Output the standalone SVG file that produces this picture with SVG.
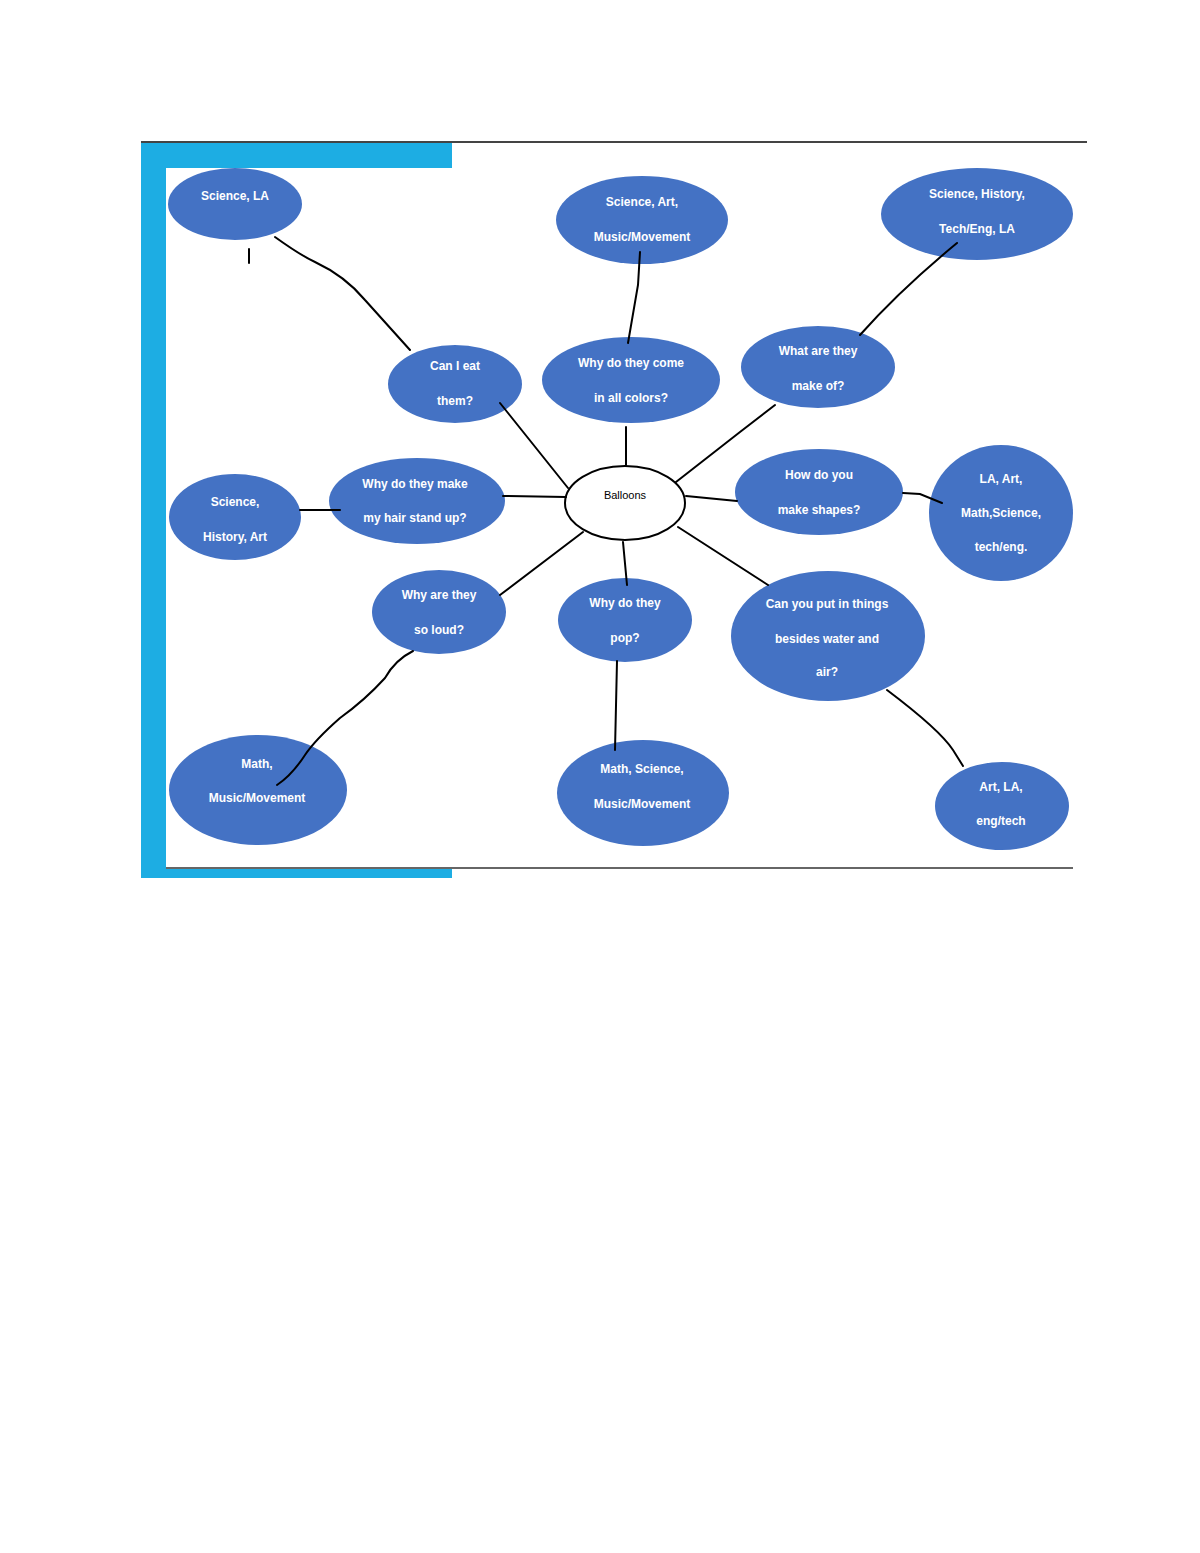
<svg xmlns="http://www.w3.org/2000/svg" width="1200" height="1553" viewBox="0 0 1200 1553">
<style>
.n{fill:#4472C4}
.t{fill:#fff;font-family:"Liberation Sans",Arial,sans-serif;font-size:12px;font-weight:bold;text-anchor:middle}
.c{fill:none;stroke:#000;stroke-width:2;stroke-linecap:round}
</style>
<defs><clipPath id="cl"><rect x="0" y="0" width="1073" height="1553"/></clipPath></defs>
<rect width="1200" height="1553" fill="#fff"/>
<line x1="141" y1="142" x2="1087" y2="142" stroke="#444" stroke-width="2"/>
<line x1="166" y1="868" x2="1073" y2="868" stroke="#666" stroke-width="2"/>
<rect x="141" y="143" width="311" height="25" fill="#1DADE3"/>
<rect x="141" y="143" width="25" height="735" fill="#1DADE3"/>
<rect x="141" y="869" width="311" height="9" fill="#1DADE3"/>
<g id="n1"><ellipse class="n" cx="235" cy="204" rx="67" ry="36"/><text class="t" x="235" y="200">Science, LA</text></g>
<g id="n2"><ellipse class="n" cx="642" cy="220" rx="86" ry="44"/><text class="t" x="642" y="206">Science, Art,</text><text class="t" x="642" y="241">Music/Movement</text></g>
<g id="n3" clip-path="url(#cl)"><ellipse class="n" cx="977" cy="214" rx="96" ry="46"/><text class="t" x="977" y="198">Science, History,</text><text class="t" x="977" y="233">Tech/Eng, LA</text></g>
<g id="n4"><ellipse class="n" cx="455" cy="384" rx="67" ry="39"/><text class="t" x="455" y="370">Can I eat</text><text class="t" x="455" y="405">them?</text></g>
<g id="n5"><ellipse class="n" cx="631" cy="380" rx="89" ry="43"/><text class="t" x="631" y="367">Why do they come</text><text class="t" x="631" y="402">in all colors?</text></g>
<g id="n6"><ellipse class="n" cx="818" cy="367" rx="77" ry="41"/><text class="t" x="818" y="355">What are they</text><text class="t" x="818" y="390">make of?</text></g>
<g id="n7"><ellipse cx="625" cy="503" rx="60" ry="37" fill="#fff" stroke="#000" stroke-width="2"/><text class="t" x="625" y="499" style="fill:#000;font-weight:normal;font-size:11px">Balloons</text></g>
<g id="n8"><ellipse class="n" cx="235" cy="517" rx="66" ry="43"/><text class="t" x="235" y="506">Science,</text><text class="t" x="235" y="541">History, Art</text></g>
<g id="n9"><ellipse class="n" cx="417" cy="501" rx="88" ry="43"/><text class="t" x="415" y="488">Why do they make</text><text class="t" x="415" y="522">my hair stand up?</text></g>
<g id="n10"><ellipse class="n" cx="819" cy="492" rx="84" ry="43"/><text class="t" x="819" y="479">How do you</text><text class="t" x="819" y="514">make shapes?</text></g>
<g id="n11" clip-path="url(#cl)"><ellipse class="n" cx="1001" cy="513" rx="72" ry="68"/><text class="t" x="1001" y="483">LA, Art,</text><text class="t" x="1001" y="517">Math,Science,</text><text class="t" x="1001" y="551">tech/eng.</text></g>
<g id="n12"><ellipse class="n" cx="439" cy="612" rx="67" ry="42"/><text class="t" x="439" y="599">Why are they</text><text class="t" x="439" y="634">so loud?</text></g>
<g id="n13"><ellipse class="n" cx="625" cy="620" rx="67" ry="42"/><text class="t" x="625" y="607">Why do they</text><text class="t" x="625" y="642">pop?</text></g>
<g id="n14"><ellipse class="n" cx="828" cy="636" rx="97" ry="65"/><text class="t" x="827" y="608">Can you put in things</text><text class="t" x="827" y="643">besides water and</text><text class="t" x="827" y="676">air?</text></g>
<g id="n15"><ellipse class="n" cx="258" cy="790" rx="89" ry="55"/><text class="t" x="257" y="768">Math,</text><text class="t" x="257" y="802">Music/Movement</text></g>
<g id="n16"><ellipse class="n" cx="643" cy="793" rx="86" ry="53"/><text class="t" x="642" y="773">Math, Science,</text><text class="t" x="642" y="808">Music/Movement</text></g>
<g id="n17"><ellipse class="n" cx="1002" cy="806" rx="67" ry="44"/><text class="t" x="1001" y="791">Art, LA,</text><text class="t" x="1001" y="825">eng/tech</text></g>
<g id="connectors">
<path class="c" d="M275,237 Q300,255 315,262 Q345,276 365,300 L410,350"/>
<line class="c" x1="249" y1="249" x2="249" y2="263"/>
<line class="c" x1="500" y1="403" x2="568" y2="488"/>
<line class="c" x1="626" y1="427" x2="626" y2="465"/>
<path class="c" d="M640,252 L638,285 L628,343"/>
<path class="c" d="M676,482 L740,432 L775,405"/>
<path class="c" d="M860,335 Q900,290 957,243"/>
<line class="c" x1="503" y1="496" x2="566" y2="497"/>
<line class="c" x1="300" y1="510" x2="340" y2="510"/>
<line class="c" x1="686" y1="496" x2="737" y2="501"/>
<path class="c" d="M903,493 L920,494 L942,503"/>
<line class="c" x1="583" y1="532" x2="500" y2="595"/>
<line class="c" x1="623" y1="542" x2="627" y2="585"/>
<line class="c" x1="678" y1="527" x2="768" y2="585"/>
<path class="c" d="M413,651 Q395,660 385,678 Q365,700 340,718 Q315,740 305,755 Q292,775 277,785"/>
<line class="c" x1="617" y1="661" x2="615" y2="750"/>
<path class="c" d="M887,690 Q940,730 953,750 L963,766"/>
</g>
</svg>
